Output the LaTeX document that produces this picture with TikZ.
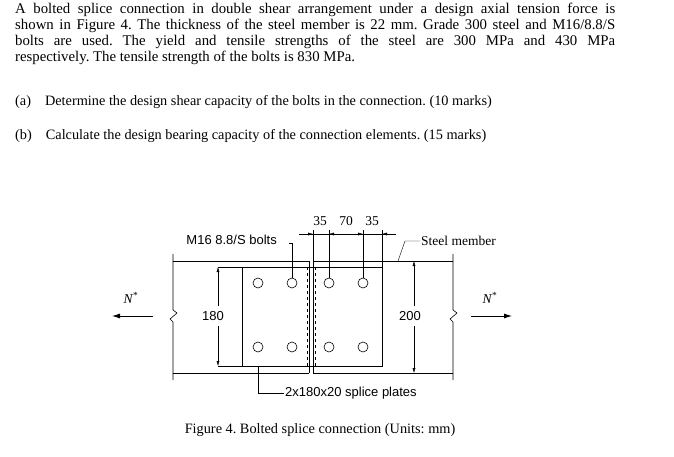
\documentclass[tikz,border=0pt]{standalone}
\usepackage{fontspec}
\setmainfont{Liberation Serif}
\newfontfamily\arial{Liberation Sans}
\usetikzlibrary{arrows.meta}
\frenchspacing
\begin{document}
\begin{tikzpicture}[x=1pt,y=-1pt,
  ln/.style={line width=0.6pt},
  thin/.style={line width=0.4pt},
  bolt/.style={circle,draw,line width=0.6pt,minimum size=10pt,inner sep=0pt},
  lab/.style={font=\arial\fontsize{13}{15}\selectfont,inner sep=1pt},
  slab/.style={font=\fontsize{13.5}{15}\selectfont,inner sep=1pt},
  dimarr/.style={-{Latex[length=5pt,width=3pt]},thin},
  force/.style={-{Latex[length=8pt,width=5pt]},line width=0.8pt}]
\useasboundingbox (0,0) rectangle (674,457);
\node[anchor=north west,inner sep=0pt,text width=600pt,align=justify,font=\fontsize{14.8}{16}\selectfont\frenchspacing] (para) at (15,3)
{A bolted splice connection in double shear arrangement under a design axial tension force is\linebreak shown in Figure 4. The thickness of the steel member is 22 mm. Grade 300 steel and M16/8.8/S\linebreak bolts are used. The yield and tensile strengths of the steel are 300 MPa and 430 MPa\linebreak respectively. The tensile strength of the bolts is 830 MPa.};
\node[anchor=west,inner sep=0pt,font=\fontsize{14.3}{16}\selectfont] (qa) at (15,102) {(a)\hspace{14pt}Determine the design shear capacity of the bolts in the connection. (10 marks)};
\node[anchor=west,inner sep=0pt,font=\fontsize{14.3}{16}\selectfont] (qb) at (15,136) {(b)\hspace{14pt}Calculate the design bearing capacity of the connection elements. (15 marks)};
% members
\draw[ln] (173,261) -- (309,261);
\draw[ln] (173,373) -- (309,373);
\draw[ln] (313,261) -- (453,261);
\draw[ln] (313,373) -- (453,373);
\draw[ln] (309,261) -- (309,373);
\draw[ln] (313,261) -- (313,373);
\draw[ln] (173,254) -- (173,310) -- (177,313) -- (170,319) -- (173,322) -- (173,380);
\draw[ln] (453,254) -- (453,310) -- (457,313) -- (450,319) -- (453,322) -- (453,380);
% splice plate
\draw[ln] (218,267) -- (382,267) -- (382,366) -- (218,366);
\draw[ln] (242,267) -- (242,366);
\draw[thin,dashed] (307,267) -- (307,366);
\draw[thin,dashed] (315,267) -- (315,366);
% bolts
\foreach \n/\x in {1/258,2/292,3/329,4/363}{
  \node[bolt] (t\n) at (\x,283) {};
  \node[bolt] (b\n) at (\x,347) {};
}
% 180 dim
\node[lab] (l180) at (213,316) {180};
\draw[dimarr] (218,306) -- (218,267);
\draw[dimarr] (218,326) -- (218,366);
% 200 dim
\node[lab] (l200) at (410,316) {200};
\draw[dimarr] (414,306) -- (414,261);
\draw[dimarr] (414,326) -- (414,373);
% top dims
\draw[thin] (313,230) -- (313,261);
\draw[thin] (t3.north) -- (329,230);
\draw[thin] (t4.north) -- (363,230);
\draw[thin] (382,230) -- (382,267);
\draw[thin] (299,234) -- (396,234);
\draw[dimarr] (300,234) -- (313,234);
\draw[dimarr] (341,234) -- (329,234);
\draw[dimarr] (351,234) -- (363,234);
\draw[dimarr] (395,234) -- (382,234);
\node[slab] (n35a) at (320,221) {35};
\node[slab] (n70) at (346,221) {70};
\node[slab] (n35b) at (372,221) {35};
% bolts label
\node[lab,anchor=east] (bl) at (278,240) {M16 8.8/S bolts};
\draw[thin] (289,243) -- (292,243) -- (t2.north);
% steel member label
\node[slab,anchor=west] (sm) at (420,241) {Steel member};
\draw[thin] (sm.west) -- (405,241) -- (398,261);
% splice plates label
\node[lab,anchor=west] (sp) at (284,393) {2x180x20 splice plates};
\draw[thin] (258,367) -- (258,393) -- (sp.west);
% forces
\coordinate (fl1) at (153,316); \coordinate (fl2) at (112,316);
\draw[force] (fl1) -- (fl2);
\node[slab] (nl) at (131,298) {\textit{N}\textsuperscript{*}};
\coordinate (fr1) at (471,316); \coordinate (fr2) at (512,316);
\draw[force] (fr1) -- (fr2);
\node[slab] (nr) at (490,298) {\textit{N}\textsuperscript{*}};
% caption
\node[font=\fontsize{14.3}{16}\selectfont,inner sep=0pt] (cap) at (320,430) {Figure 4. Bolted splice connection (Units: mm)};
\end{tikzpicture}
\end{document}
